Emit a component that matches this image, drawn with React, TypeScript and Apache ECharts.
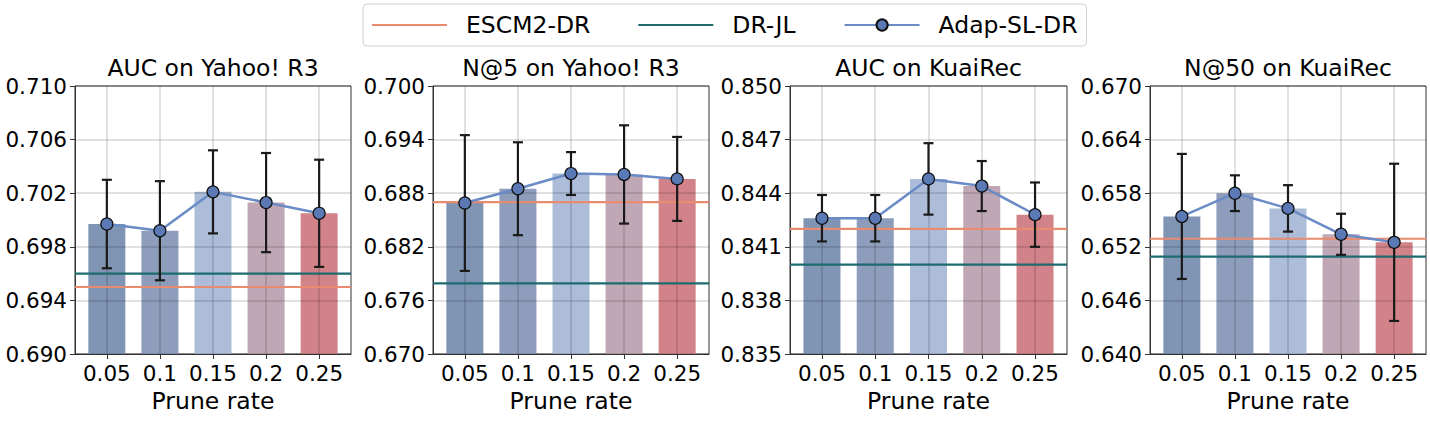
import { useEffect, useRef } from "react";
import * as echarts from "echarts";

// prune rates on the x axis
const rates = ["0.05", "0.1", "0.15", "0.2", "0.25"];
const titles = ["AUC on Yahoo! R3", "N@5 on Yahoo! R3", "AUC on KuaiRec", "N@50 on KuaiRec"];

// Adap-SL-DR mean and half-width of error bar, per panel
const yahooAuc = [0.6997, 0.6992, 0.7021, 0.7013, 0.7005];
const yahooAucErr = [0.0033, 0.0037, 0.0031, 0.0037, 0.004];
const yahooNdcg = [0.6869, 0.6885, 0.6902, 0.6901, 0.6896];
const yahooNdcgErr = [0.0076, 0.0052, 0.0024, 0.0055, 0.0047];
const kuaiAuc = [0.8426, 0.8426, 0.8448, 0.8444, 0.8428];
const kuaiAucErr = [0.0013, 0.0013, 0.002, 0.0014, 0.0018];
const kuaiNdcg = [0.6554, 0.658, 0.6563, 0.6534, 0.6525];
const kuaiNdcgErr = [0.007, 0.002, 0.0026, 0.0023, 0.0088];

// baselines (one value per panel)
const escm2Dr = [0.695, 0.687, 0.842, 0.6529];
const drJl = [0.696, 0.6779, 0.84, 0.6509];

// axis ranges
const xMin = -0.6;
const xMax = 4.6;
const yMin = [0.69, 0.67, 0.835, 0.64];
const yMax = [0.71, 0.7, 0.85, 0.67];
const yStep = [0.004, 0.006, 0.003, 0.006];

const means = [yahooAuc, yahooNdcg, kuaiAuc, kuaiNdcg];
const errs = [yahooAucErr, yahooNdcgErr, kuaiAucErr, kuaiNdcgErr];

const barColors = ["#8094b3", "#8d9dbb", "#adbcd8", "#c0a7b5", "#d28389"];
const ORANGE = "#e88b6e";
const TEAL = "#1d6b6e";
const BLUE = "#6a8bc6";
const FONT = "DejaVu Sans";
// plain line icon for the baseline legend entries
const LINE_ICON = "path://M0,0 L75,0 L75,2.2 L0,2.2 Z";

const gridLefts = [75, 433, 790, 1150];
const gridWidths = [276, 276, 277, 276];

const App = () => {
  const chartRef = useRef<HTMLDivElement>(null);

  useEffect(() => {
    document.body.style.margin = "0";
    if (!chartRef.current) return;
    const chart = echarts.init(chartRef.current, null, { renderer: "svg" });
    const ticks = rates.map((_, i) => i);

    const grids = gridLefts.map((left, k) => ({
      left,
      top: 86,
      width: gridWidths[k],
      height: 268,
      show: true,
      borderColor: "#333",
      borderWidth: 1,
      backgroundColor: "transparent",
    }));

    const titleOpts = titles.map((text, k) => ({
      text,
      left: gridLefts[k] + gridWidths[k] / 2,
      top: 56,
      textAlign: "center",
      padding: 0,
      textStyle: { fontFamily: FONT, fontSize: 23.5, fontWeight: "normal", color: "#000" },
    }));

    const xAxes = gridLefts.map((_, k) => ({
      type: "value",
      gridIndex: k,
      min: xMin,
      max: xMax,
      z: 1.5,
      axisLine: { show: true, onZero: false, lineStyle: { color: "#333", width: 1 } },
      axisTick: { show: true, customValues: ticks, length: 5, lineStyle: { color: "#333" } },
      axisLabel: {
        customValues: ticks,
        formatter: (v: number) => rates[Math.round(v)],
        fontFamily: FONT,
        fontSize: 21.5,
        color: "#000",
        margin: 8,
      },
      splitLine: { show: true, lineStyle: { color: "rgba(0,0,0,0.16)", width: 1.5 } },
      name: "Prune rate",
      nameLocation: "middle",
      nameGap: 33,
      nameTextStyle: { fontFamily: FONT, fontSize: 23.5, color: "#000" },
    }));

    const yAxes = gridLefts.map((_, k) => ({
      type: "value",
      gridIndex: k,
      min: yMin[k],
      max: yMax[k],
      interval: yStep[k],
      z: 1.5,
      axisLine: { show: true, onZero: false, lineStyle: { color: "#333", width: 1 } },
      axisTick: { show: true, length: 5, lineStyle: { color: "#333" } },
      axisLabel: {
        formatter: (v: number) => v.toFixed(3),
        fontFamily: FONT,
        fontSize: 21.5,
        color: "#000",
        margin: 8,
      },
      splitLine: { show: true, lineStyle: { color: "rgba(0,0,0,0.16)", width: 1.5 } },
    }));

    const baseline = (name: string, color: string, v: number, k: number) => ({
      name,
      type: "line",
      xAxisIndex: k,
      yAxisIndex: k,
      symbol: "none",
      showSymbol: false,
      silent: true,
      z: 2.5,
      color,
      lineStyle: { color, width: 2.2 },
      data: [
        [xMin, v],
        [xMax, v],
      ],
    });

    const series: any[] = [];
    means.forEach((m, k) => {
      // bars
      series.push({
        type: "bar",
        xAxisIndex: k,
        yAxisIndex: k,
        barWidth: 37,
        z: 1,
        clip: true,
        silent: true,
        data: m.map((v, i) => ({ value: [i, v], itemStyle: { color: barColors[i] } })),
      });
      series.push(baseline("ESCM2-DR", ORANGE, escm2Dr[k], k));
      series.push(baseline("DR-JL", TEAL, drJl[k], k));
      // error bars
      series.push({
        type: "custom",
        xAxisIndex: k,
        yAxisIndex: k,
        z: 3,
        silent: true,
        encode: { x: 0, y: [1, 2] },
        data: m.map((v, i) => [i, v - errs[k][i], v + errs[k][i]]),
        renderItem: (params: any, api: any) => {
          const x = api.value(0);
          const lo = api.coord([x, api.value(1)]);
          const hi = api.coord([x, api.value(2)]);
          const style = { stroke: "#1a1a1a", lineWidth: 2.2 };
          return {
            type: "group",
            children: [
              { type: "line", shape: { x1: lo[0], y1: lo[1], x2: hi[0], y2: hi[1] }, style },
              { type: "line", shape: { x1: hi[0] - 5, y1: hi[1], x2: hi[0] + 5, y2: hi[1] }, style },
              { type: "line", shape: { x1: lo[0] - 5, y1: lo[1], x2: lo[0] + 5, y2: lo[1] }, style },
            ],
          };
        },
      });
      // Adap-SL-DR line
      series.push({
        name: "Adap-SL-DR",
        type: "line",
        xAxisIndex: k,
        yAxisIndex: k,
        z: 4,
        color: BLUE,
        symbol: "circle",
        symbolSize: 12,
        lineStyle: { color: BLUE, width: 2.5 },
        itemStyle: { color: "#5b7ab5", borderColor: "#111", borderWidth: 1.2 },
        data: m.map((v, i) => [i, v]),
      });
    });

    chart.setOption({
      animation: false,
      title: titleOpts,
      legend: {
        data: [
          { name: "ESCM2-DR", icon: LINE_ICON },
          { name: "DR-JL", icon: LINE_ICON },
          { name: "Adap-SL-DR" },
        ],
        left: 363,
        top: 4,
        padding: [9, 9, 9, 9],
        itemWidth: 75,
        itemHeight: 14,
        itemGap: 48,
        borderColor: "#d0d0d0",
        borderWidth: 1,
        borderRadius: 4,
        selectedMode: false,
        textStyle: { fontFamily: FONT, fontSize: 23.5, color: "#000", padding: [0, 0, 0, 14] },
      },
      grid: grids,
      xAxis: xAxes,
      yAxis: yAxes,
      series,
    });

    return () => {
      chart.dispose();
    };
  }, []);

  return <div ref={chartRef} style={{ width: 1430, height: 440 }} />;
};

export default App;
